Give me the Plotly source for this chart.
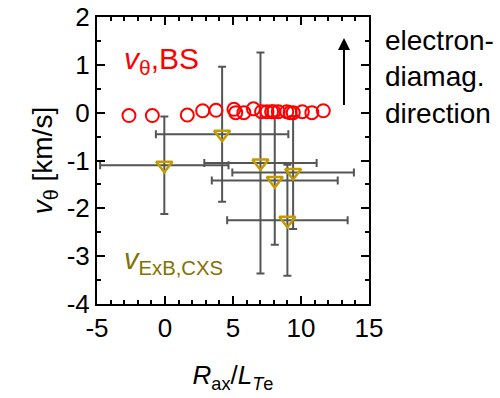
import plotly.graph_objects as go

# Red circles: v_theta from beam spectroscopy (BS)
bs_x = [-2.65, -0.93, 1.64, 2.77, 3.75, 5.07, 5.2, 5.8, 6.5, 7.1, 7.5, 7.84,
        8.0, 8.33, 8.95, 9.2, 9.43, 10.1, 10.8, 11.64]
bs_y = [-0.06, -0.06, -0.05, 0.04, 0.05, 0.07, 0.0, 0.0, 0.08, 0.02, 0.02, 0.02,
        0.02, 0.02, 0.02, 0.0, 0.0, 0.02, 0.0, 0.04]

# Triangles: v_ExB from CXS, with error bars
cxs_x = [-0.05, 4.2, 7.02, 8.07, 9.42, 9.0]
cxs_y = [-1.1, -0.45, -1.05, -1.42, -1.25, -2.25]
cxs_xerr = [4.72, 4.87, 4.13, 4.63, 4.47, 4.43]
cxs_yerr = [1.02, 1.41, 2.31, 1.34, 1.18, 1.16]

x_ticks = [-5, 0, 5, 10, 15]
y_ticks = [-4, -3, -2, -1, 0, 1, 2]

FONT = "Liberation Sans, Arial, sans-serif"

fig = go.Figure()
fig.add_trace(go.Scatter(
    x=cxs_x, y=cxs_y, mode="markers",
    error_x=dict(type="data", array=cxs_xerr, color="#555555", thickness=2, width=4),
    error_y=dict(type="data", array=cxs_yerr, color="#555555", thickness=2, width=4),
    marker=dict(symbol="triangle-down-open", size=14, color="#C29B00",
                line=dict(width=2.5, color="#C29B00")),
    showlegend=False))
fig.add_trace(go.Scatter(
    x=bs_x, y=bs_y, mode="markers",
    marker=dict(symbol="circle-open", size=13, color="#FF0000",
                line=dict(width=2, color="#FF0000")),
    showlegend=False))

axis_common = dict(showline=True, linecolor="black", linewidth=2, mirror="allticks",
                   ticks="inside", ticklen=8, tickwidth=1.5, tickcolor="black",
                   showgrid=False, zeroline=False, automargin=False,
                   ticklabeloverflow="allow",
                   tickfont=dict(family=FONT, size=26, color="black"))

fig.update_xaxes(range=[-5, 15], tickvals=x_ticks, ticktext=[str(v) for v in x_ticks],
                 minor=dict(ticks="inside", ticklen=4, dtick=1, tickcolor="black", tickwidth=1.5),
                 title=dict(text="<i>R</i><sub>ax</sub>/<i>L</i><sub><i>T</i>e</sub>",
                            font=dict(family=FONT, size=26, color="black"), standoff=24),
                 **axis_common)
fig.update_yaxes(range=[-4, 2], tickvals=y_ticks, ticktext=[str(v) for v in y_ticks],
                 minor=dict(ticks="inside", ticklen=4, dtick=0.5, tickcolor="black", tickwidth=1.5),
                 title=dict(text="<i>v</i><sub>θ</sub> [km/s]",
                            font=dict(family=FONT, size=28, color="black"), standoff=6),
                 **axis_common)

fig.add_annotation(x=13.16, y=1.56, ax=13.16, ay=0.13, xref="x", yref="y",
                   axref="x", ayref="y", showarrow=True, arrowhead=2, arrowsize=1.2,
                   arrowwidth=2, arrowcolor="black", text="")
fig.add_annotation(x=1.05, y=0.75, xref="paper", yref="y", xanchor="left", yanchor="middle",
                   text="electron-<br>diamag.<br>direction", showarrow=False, align="left",
                   font=dict(family=FONT, size=28, color="black"))
fig.add_annotation(x=-3.15, y=1.1, xref="x", yref="y", xanchor="left", yanchor="middle",
                   text="<i>v</i><sub>θ</sub>,BS", showarrow=False,
                   font=dict(family=FONT, size=30, color="#FF0000"))
fig.add_annotation(x=-3.15, y=-3.1, xref="x", yref="y", xanchor="left", yanchor="middle",
                   text="<i>v</i><sub>ExB,CXS</sub>", showarrow=False,
                   font=dict(family=FONT, size=29, color="#857200"))

fig.update_layout(width=500, height=398, plot_bgcolor="white", paper_bgcolor="white",
                  margin=dict(l=97, r=131, t=17, b=94), font=dict(family=FONT))

fig.write_html("out.html", config={"displayModeBar": False},
               post_script="document.body.style.margin='0';")
